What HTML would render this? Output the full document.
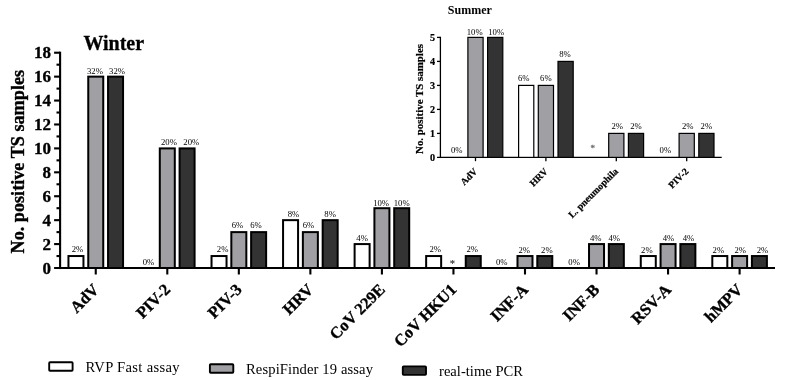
<!DOCTYPE html>
<html lang="en"><head><meta charset="utf-8"><title>Winter and Summer positive TS samples</title>
<style>
html,body{margin:0;padding:0;background:#fff;}
body{width:785px;height:380px;overflow:hidden;}
svg{display:block;font-family:"Liberation Serif", serif;}
</style></head><body>
<svg width="785" height="380" viewBox="0 0 785 380">
<rect width="785" height="380" fill="#fff"/>
<text x="83.4" y="49.7" font-weight="bold" font-size="20" stroke="#000" stroke-width="0.3">Winter</text>
<text transform="translate(24 161.7) rotate(-90)" font-weight="bold" font-size="18.2" text-anchor="middle" stroke="#000" stroke-width="0.35">No. positive TS samples</text>
<g stroke="#000" stroke-width="2.1" fill="none">
<path d="M60.1 51.67V269.05"/>
<path d="M54.10 268H775"/>
<path d="M54.10 244.08H60.1"/>
<path d="M54.10 220.16H60.1"/>
<path d="M54.10 196.24H60.1"/>
<path d="M54.10 172.32H60.1"/>
<path d="M54.10 148.40H60.1"/>
<path d="M54.10 124.48H60.1"/>
<path d="M54.10 100.56H60.1"/>
<path d="M54.10 76.64H60.1"/>
<path d="M54.10 52.72H60.1"/>
<path d="M56.50 256.04H60.1"/>
<path d="M56.50 232.12H60.1"/>
<path d="M56.50 208.20H60.1"/>
<path d="M56.50 184.28H60.1"/>
<path d="M56.50 160.36H60.1"/>
<path d="M56.50 136.44H60.1"/>
<path d="M56.50 112.52H60.1"/>
<path d="M56.50 88.60H60.1"/>
<path d="M56.50 64.68H60.1"/>
<path d="M95.75 268V274.50"/>
<path d="M167.29 268V274.50"/>
<path d="M238.83 268V274.50"/>
<path d="M310.37 268V274.50"/>
<path d="M381.91 268V274.50"/>
<path d="M453.45 268V274.50"/>
<path d="M524.99 268V274.50"/>
<path d="M596.53 268V274.50"/>
<path d="M668.07 268V274.50"/>
<path d="M739.61 268V274.50"/>
</g>
<g font-weight="bold" font-size="17" text-anchor="end" stroke="#000" stroke-width="0.34">
<text x="51" y="273.75">0</text>
<text x="51" y="249.83">2</text>
<text x="51" y="225.91">4</text>
<text x="51" y="201.99">6</text>
<text x="51" y="178.07">8</text>
<text x="51" y="154.15">10</text>
<text x="51" y="130.23">12</text>
<text x="51" y="106.31">14</text>
<text x="51" y="82.39">16</text>
<text x="51" y="58.47">18</text>
</g>
<rect x="68.45" y="256.04" width="15.00" height="11.96" fill="#ffffff" stroke="#000" stroke-width="2.0"/>
<text x="77.45" y="252.34" font-size="8.7" text-anchor="middle" fill="#000">2%</text>
<rect x="88.25" y="76.64" width="15.00" height="191.36" fill="#a0a0a4" stroke="#000" stroke-width="2.0"/>
<text x="94.95" y="74.14" font-size="8.7" text-anchor="middle" fill="#000">32%</text>
<rect x="108.05" y="76.64" width="15.00" height="191.36" fill="#333333" stroke="#000" stroke-width="2.0"/>
<text x="117.05" y="74.14" font-size="8.7" text-anchor="middle" fill="#000">32%</text>
<text x="148.49" y="264.85" font-size="8.7" text-anchor="middle" fill="#000">0%</text>
<rect x="159.79" y="148.40" width="15.00" height="119.60" fill="#a0a0a4" stroke="#000" stroke-width="2.0"/>
<text x="168.99" y="145.30" font-size="8.7" text-anchor="middle" fill="#000">20%</text>
<rect x="179.59" y="148.40" width="15.00" height="119.60" fill="#333333" stroke="#000" stroke-width="2.0"/>
<text x="191.29" y="145.30" font-size="8.7" text-anchor="middle" fill="#000">20%</text>
<rect x="211.53" y="256.04" width="15.00" height="11.96" fill="#ffffff" stroke="#000" stroke-width="2.0"/>
<text x="222.63" y="252.14" font-size="8.7" text-anchor="middle" fill="#000">2%</text>
<rect x="231.33" y="232.12" width="15.00" height="35.88" fill="#a0a0a4" stroke="#000" stroke-width="2.0"/>
<text x="237.53" y="228.22" font-size="8.7" text-anchor="middle" fill="#000">6%</text>
<rect x="251.13" y="232.12" width="15.00" height="35.88" fill="#333333" stroke="#000" stroke-width="2.0"/>
<text x="256.03" y="228.22" font-size="8.7" text-anchor="middle" fill="#000">6%</text>
<rect x="283.07" y="220.16" width="15.00" height="47.84" fill="#ffffff" stroke="#000" stroke-width="2.0"/>
<text x="293.57" y="217.46" font-size="8.7" text-anchor="middle" fill="#000">8%</text>
<rect x="302.87" y="232.12" width="15.00" height="35.88" fill="#a0a0a4" stroke="#000" stroke-width="2.0"/>
<text x="308.47" y="228.22" font-size="8.7" text-anchor="middle" fill="#000">6%</text>
<rect x="322.67" y="220.16" width="15.00" height="47.84" fill="#333333" stroke="#000" stroke-width="2.0"/>
<text x="330.17" y="217.46" font-size="8.7" text-anchor="middle" fill="#000">8%</text>
<rect x="354.61" y="244.08" width="15.00" height="23.92" fill="#ffffff" stroke="#000" stroke-width="2.0"/>
<text x="362.11" y="241.38" font-size="8.7" text-anchor="middle" fill="#000">4%</text>
<rect x="374.41" y="208.20" width="15.00" height="59.80" fill="#a0a0a4" stroke="#000" stroke-width="2.0"/>
<text x="381.11" y="205.50" font-size="8.7" text-anchor="middle" fill="#000">10%</text>
<rect x="394.21" y="208.20" width="15.00" height="59.80" fill="#333333" stroke="#000" stroke-width="2.0"/>
<text x="401.71" y="205.50" font-size="8.7" text-anchor="middle" fill="#000">10%</text>
<rect x="426.15" y="256.04" width="15.00" height="11.96" fill="#ffffff" stroke="#000" stroke-width="2.0"/>
<text x="435.25" y="252.34" font-size="8.7" text-anchor="middle" fill="#000">2%</text>
<text x="452.35" y="267.00" font-size="10.5" text-anchor="middle" fill="#333" stroke="#333" stroke-width="0.15">*</text>
<rect x="465.75" y="256.04" width="15.00" height="11.96" fill="#333333" stroke="#000" stroke-width="2.0"/>
<text x="472.25" y="252.34" font-size="8.7" text-anchor="middle" fill="#000">2%</text>
<text x="501.79" y="264.85" font-size="8.7" text-anchor="middle" fill="#000">0%</text>
<rect x="517.49" y="256.04" width="15.00" height="11.96" fill="#a0a0a4" stroke="#000" stroke-width="2.0"/>
<text x="524.29" y="252.54" font-size="8.7" text-anchor="middle" fill="#000">2%</text>
<rect x="537.29" y="256.04" width="15.00" height="11.96" fill="#333333" stroke="#000" stroke-width="2.0"/>
<text x="546.89" y="252.54" font-size="8.7" text-anchor="middle" fill="#000">2%</text>
<text x="574.13" y="264.85" font-size="8.7" text-anchor="middle" fill="#000">0%</text>
<rect x="589.03" y="244.08" width="15.00" height="23.92" fill="#a0a0a4" stroke="#000" stroke-width="2.0"/>
<text x="595.73" y="241.38" font-size="8.7" text-anchor="middle" fill="#000">4%</text>
<rect x="608.83" y="244.08" width="15.00" height="23.92" fill="#333333" stroke="#000" stroke-width="2.0"/>
<text x="614.23" y="241.38" font-size="8.7" text-anchor="middle" fill="#000">4%</text>
<rect x="640.77" y="256.04" width="15.00" height="11.96" fill="#ffffff" stroke="#000" stroke-width="2.0"/>
<text x="646.87" y="252.54" font-size="8.7" text-anchor="middle" fill="#000">2%</text>
<rect x="660.57" y="244.08" width="15.00" height="23.92" fill="#a0a0a4" stroke="#000" stroke-width="2.0"/>
<text x="668.57" y="241.38" font-size="8.7" text-anchor="middle" fill="#000">4%</text>
<rect x="680.37" y="244.08" width="15.00" height="23.92" fill="#333333" stroke="#000" stroke-width="2.0"/>
<text x="688.47" y="241.38" font-size="8.7" text-anchor="middle" fill="#000">4%</text>
<rect x="712.31" y="256.04" width="15.00" height="11.96" fill="#ffffff" stroke="#000" stroke-width="2.0"/>
<text x="718.41" y="252.54" font-size="8.7" text-anchor="middle" fill="#000">2%</text>
<rect x="732.11" y="256.04" width="15.00" height="11.96" fill="#a0a0a4" stroke="#000" stroke-width="2.0"/>
<text x="740.21" y="252.54" font-size="8.7" text-anchor="middle" fill="#000">2%</text>
<rect x="751.91" y="256.04" width="15.00" height="11.96" fill="#333333" stroke="#000" stroke-width="2.0"/>
<text x="762.51" y="252.54" font-size="8.7" text-anchor="middle" fill="#000">2%</text>
<g font-weight="bold" font-size="16.3" text-anchor="end" stroke="#000" stroke-width="0.36">
<text transform="translate(99.75 290.60) rotate(-45)">AdV</text>
<text transform="translate(171.29 290.60) rotate(-45)">PIV-2</text>
<text transform="translate(242.83 290.60) rotate(-45)">PIV-3</text>
<text transform="translate(314.37 290.60) rotate(-45)">HRV</text>
<text transform="translate(385.91 290.60) rotate(-45)">CoV 229E</text>
<text transform="translate(457.45 290.60) rotate(-45)">CoV HKU1</text>
<text transform="translate(528.99 290.60) rotate(-45)">INF-A</text>
<text transform="translate(600.53 290.60) rotate(-45)">INF-B</text>
<text transform="translate(672.07 290.60) rotate(-45)">RSV-A</text>
<text transform="translate(743.61 290.60) rotate(-45)">hMPV</text>
</g>
<text x="447.8" y="14.3" font-weight="bold" font-size="12">Summer</text>
<text transform="translate(423.2 99) rotate(-90)" font-weight="bold" font-size="10.9" text-anchor="middle" stroke="#000" stroke-width="0.2">No. positive TS samples</text>
<g stroke="#000" stroke-width="1.3" fill="none">
<path d="M440.4 36.75V158.05"/>
<path d="M437.00 157.4H721.7"/>
<path d="M437.00 133.40H440.4"/>
<path d="M437.00 109.40H440.4"/>
<path d="M437.00 85.40H440.4"/>
<path d="M437.00 61.40H440.4"/>
<path d="M437.00 37.40H440.4"/>
<path d="M475.50 157.4V161.20"/>
<path d="M545.90 157.4V161.20"/>
<path d="M616.30 157.4V161.20"/>
<path d="M686.70 157.4V161.20"/>
</g>
<g font-weight="bold" font-size="10.2" text-anchor="end" stroke="#000" stroke-width="0.20">
<text x="435.2" y="160.85">0</text>
<text x="435.2" y="136.85">1</text>
<text x="435.2" y="112.85">2</text>
<text x="435.2" y="88.85">3</text>
<text x="435.2" y="64.85">4</text>
<text x="435.2" y="40.85">5</text>
</g>
<text x="456.80" y="152.55" font-size="8.7" text-anchor="middle" fill="#000">0%</text>
<rect x="467.90" y="37.40" width="15.20" height="120.00" fill="#a0a0a4" stroke="#000" stroke-width="1.2"/>
<text x="474.70" y="34.80" font-size="8.7" text-anchor="middle" fill="#000">10%</text>
<rect x="487.60" y="37.40" width="15.20" height="120.00" fill="#333333" stroke="#000" stroke-width="1.2"/>
<text x="496.20" y="34.80" font-size="8.7" text-anchor="middle" fill="#000">10%</text>
<rect x="518.60" y="85.40" width="15.20" height="72.00" fill="#ffffff" stroke="#000" stroke-width="1.2"/>
<text x="523.80" y="80.80" font-size="8.7" text-anchor="middle" fill="#000">6%</text>
<rect x="538.30" y="85.40" width="15.20" height="72.00" fill="#a0a0a4" stroke="#000" stroke-width="1.2"/>
<text x="545.90" y="80.80" font-size="8.7" text-anchor="middle" fill="#000">6%</text>
<rect x="558.00" y="61.40" width="15.20" height="96.00" fill="#333333" stroke="#000" stroke-width="1.2"/>
<text x="565.00" y="56.80" font-size="8.7" text-anchor="middle" fill="#000">8%</text>
<text x="592.80" y="151.00" font-size="9" text-anchor="middle" fill="#707070" stroke="#707070" stroke-width="0.3">*</text>
<rect x="608.70" y="133.40" width="15.20" height="24.00" fill="#a0a0a4" stroke="#000" stroke-width="1.2"/>
<text x="617.30" y="128.80" font-size="8.7" text-anchor="middle" fill="#000">2%</text>
<rect x="628.40" y="133.40" width="15.20" height="24.00" fill="#333333" stroke="#000" stroke-width="1.2"/>
<text x="636.00" y="128.80" font-size="8.7" text-anchor="middle" fill="#000">2%</text>
<text x="665.40" y="152.75" font-size="8.7" text-anchor="middle" fill="#000">0%</text>
<rect x="679.10" y="133.40" width="15.20" height="24.00" fill="#a0a0a4" stroke="#000" stroke-width="1.2"/>
<text x="687.70" y="128.80" font-size="8.7" text-anchor="middle" fill="#000">2%</text>
<rect x="698.80" y="133.40" width="15.20" height="24.00" fill="#333333" stroke="#000" stroke-width="1.2"/>
<text x="706.40" y="128.80" font-size="8.7" text-anchor="middle" fill="#000">2%</text>
<g font-weight="bold" font-size="9.7" text-anchor="end" stroke="#000" stroke-width="0.21">
<text transform="translate(478.00 172.00) rotate(-45)">AdV</text>
<text transform="translate(548.40 172.00) rotate(-45)">HRV</text>
<text transform="translate(618.80 172.00) rotate(-45)">L. pneumophila</text>
<text transform="translate(689.20 172.00) rotate(-45)">PIV-2</text>
</g>
<rect x="49.199999999999996" y="362.2" width="23.400000000000002" height="8.5" rx="0.8" fill="#ffffff" stroke="#000" stroke-width="1.9"/>
<text x="85.4" y="371.8" font-size="14.6" textLength="94.2" lengthAdjust="spacing">RVP Fast assay</text>
<rect x="209.9" y="364.3" width="23.400000000000002" height="8.5" rx="0.8" fill="#a0a0a4" stroke="#000" stroke-width="1.9"/>
<text x="246" y="373.8" font-size="14.6" textLength="127" lengthAdjust="spacing">RespiFinder 19 assay</text>
<rect x="402.79999999999995" y="366.40000000000003" width="23.200000000000003" height="8.5" rx="0.8" fill="#333333" stroke="#000" stroke-width="1.9"/>
<text x="439" y="376.1" font-size="14.6" textLength="84" lengthAdjust="spacing">real-time PCR</text>
</svg></body></html>
